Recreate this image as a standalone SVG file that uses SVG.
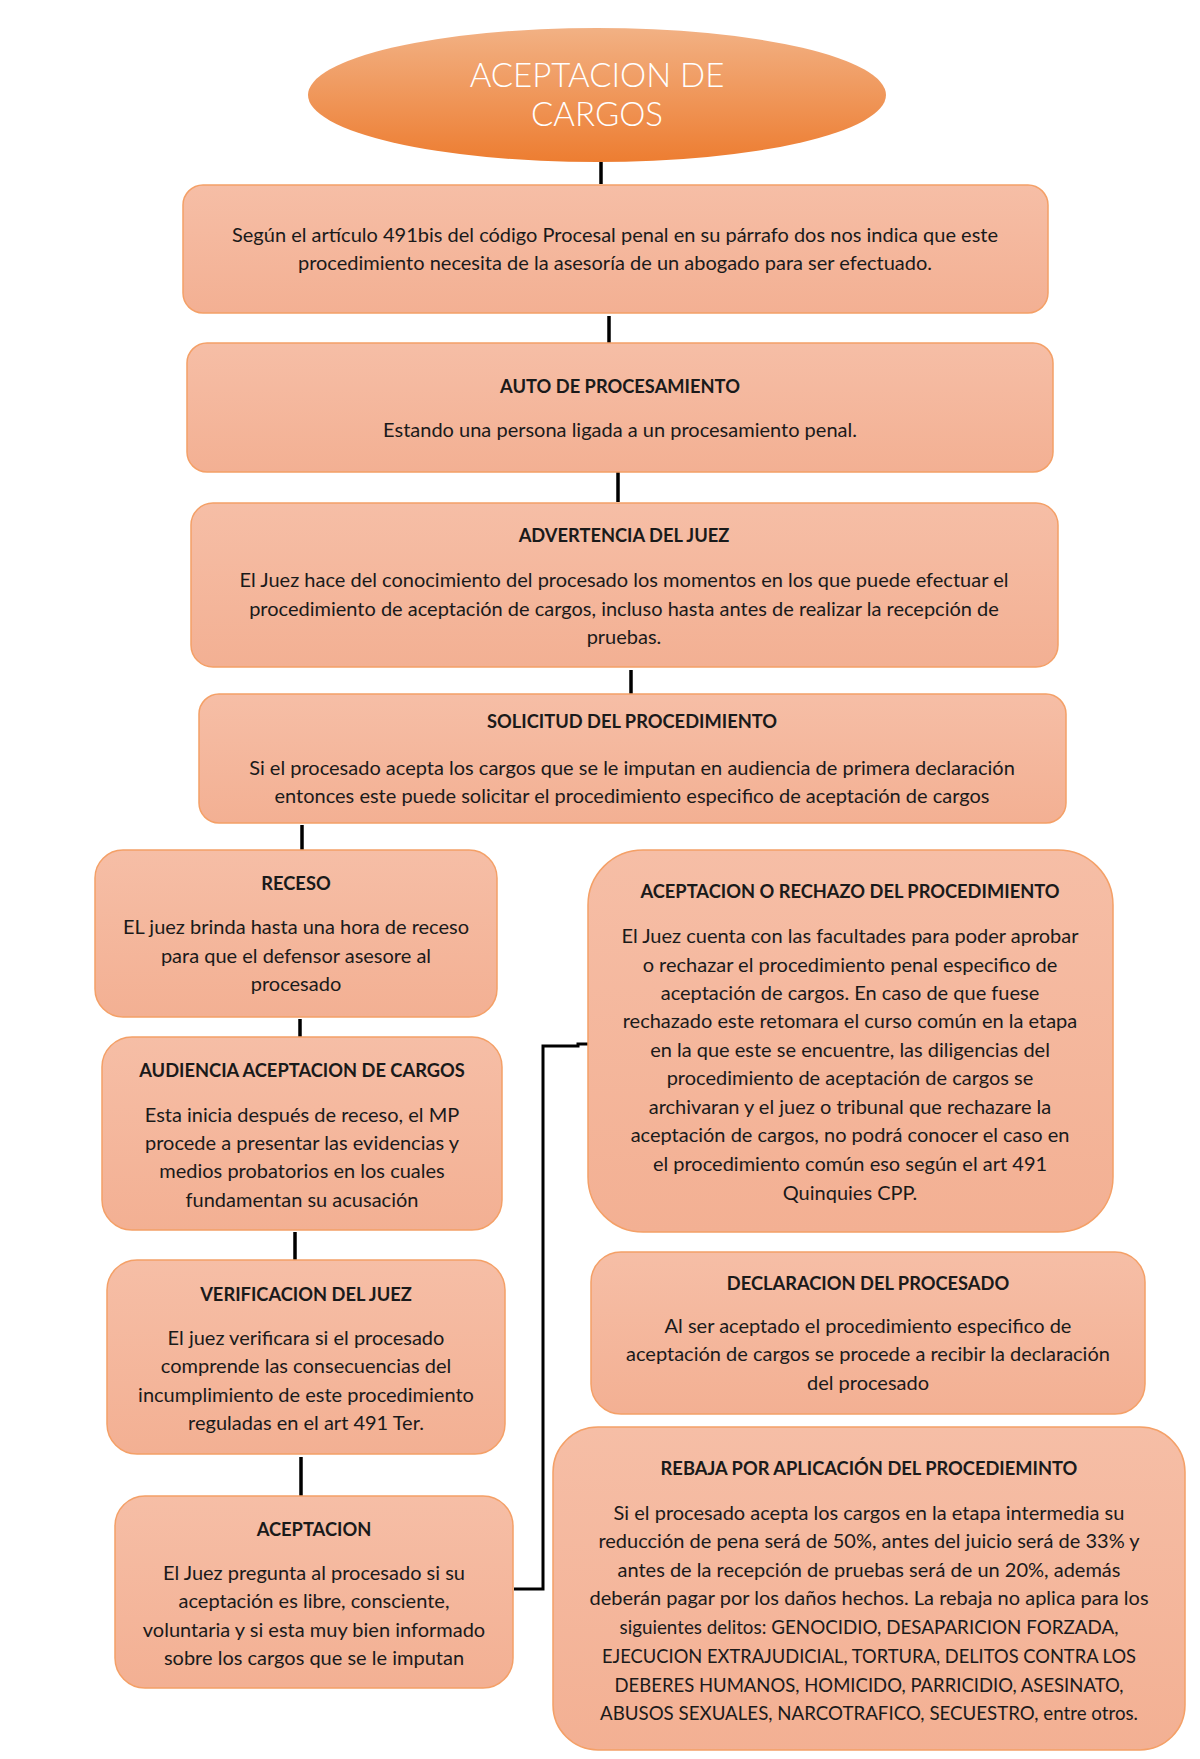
<svg xmlns="http://www.w3.org/2000/svg" width="1200" height="1759" viewBox="0 0 1200 1759">
<defs>
<linearGradient id="gBox" x1="0" y1="0" x2="0" y2="1">
<stop offset="0" stop-color="#F6BEA6"/>
<stop offset="1" stop-color="#F3B093"/>
</linearGradient>
<linearGradient id="gEll" x1="0" y1="0" x2="0" y2="1">
<stop offset="0" stop-color="#F2B184"/>
<stop offset="1" stop-color="#ED7D31"/>
</linearGradient>
<style>
.box{fill:url(#gBox);stroke:#F4A067;stroke-width:1.5}
.t{font-family:Lato,"Liberation Sans",sans-serif;font-size:20px;fill:#1a1a1a;text-anchor:middle}
.b{font-weight:bold;font-size:18.3px}
.c{stroke:#000;stroke-width:3.5;fill:none}
.ct{stroke:#000;stroke-width:3;fill:none}
</style>
</defs>
<rect width="1200" height="1759" fill="#fff"/>

<g id="connectors">
<line class="c" x1="601" y1="162" x2="601" y2="184"/>
<line class="c" x1="609" y1="316" x2="609" y2="343"/>
<line class="c" x1="618" y1="472" x2="618" y2="502"/>
<line class="c" x1="631" y1="670" x2="631" y2="694"/>
<line class="c" x1="302" y1="825" x2="302" y2="850"/>
<line class="c" x1="300" y1="1019" x2="300" y2="1037"/>
<line class="c" x1="295" y1="1232" x2="295" y2="1260"/>
<line class="c" x1="301" y1="1457" x2="301" y2="1496"/>
<path class="ct" d="M514 1589 H543 V1046 H578 V1044 H588"/>
</g>

<g id="n-title">
<ellipse cx="597" cy="95" rx="289" ry="67" fill="url(#gEll)"/>
<text x="597" y="87" font-family="Lato,'Liberation Sans',sans-serif" font-weight="300" font-size="33" fill="#fff" text-anchor="middle">ACEPTACION DE</text>
<text x="597" y="126" font-family="Lato,'Liberation Sans',sans-serif" font-weight="300" font-size="33" fill="#fff" text-anchor="middle">CARGOS</text>
</g>

<g id="n-articulo">
<rect class="box" x="183" y="185" width="865" height="128" rx="20"/>
<text class="t" x="615" y="242">Según el artículo 491bis del código Procesal penal en su párrafo dos nos indica que este</text>
<text class="t" x="615" y="270">procedimiento necesita de la asesoría de un abogado para ser efectuado.</text>
</g>

<g id="n-auto">
<rect class="box" x="187" y="343" width="866" height="129" rx="20"/>
<text class="t b" x="620" y="393">AUTO DE PROCESAMIENTO</text>
<text class="t" x="620" y="437">Estando una persona ligada a un procesamiento penal.</text>
</g>

<g id="n-advertencia">
<rect class="box" x="191" y="503" width="867" height="164" rx="22"/>
<text class="t b" x="624" y="542">ADVERTENCIA DEL JUEZ</text>
<text class="t" x="624" y="587">El Juez hace del conocimiento del procesado los momentos en los que puede efectuar el</text>
<text class="t" x="624" y="616">procedimiento de aceptación de cargos, incluso hasta antes de realizar la recepción de</text>
<text class="t" x="624" y="644">pruebas.</text>
</g>

<g id="n-solicitud">
<rect class="box" x="199" y="694" width="867" height="129" rx="20"/>
<text class="t b" x="632" y="728">SOLICITUD DEL PROCEDIMIENTO</text>
<text class="t" x="632" y="775">Si el procesado acepta los cargos que se le imputan en audiencia de primera declaración</text>
<text class="t" x="632" y="803">entonces este puede solicitar el procedimiento especifico de aceptación de cargos</text>
</g>

<g id="n-receso">
<rect class="box" x="95" y="850" width="402" height="167" rx="28"/>
<text class="t b" x="296" y="890">RECESO</text>
<text class="t" x="296" y="934">EL juez brinda hasta una hora de receso</text>
<text class="t" x="296" y="963">para que el defensor asesore al</text>
<text class="t" x="296" y="991">procesado</text>
</g>

<g id="n-audiencia">
<rect class="box" x="102" y="1037" width="400" height="193" rx="30"/>
<text class="t b" x="302" y="1077">AUDIENCIA ACEPTACION DE CARGOS</text>
<text class="t" x="302" y="1122">Esta inicia después de receso, el MP</text>
<text class="t" x="302" y="1150">procede a presentar las evidencias y</text>
<text class="t" x="302" y="1178">medios probatorios en los cuales</text>
<text class="t" x="302" y="1207">fundamentan su acusación</text>
</g>

<g id="n-verificacion">
<rect class="box" x="107" y="1260" width="398" height="194" rx="30"/>
<text class="t b" x="306" y="1301">VERIFICACION DEL JUEZ</text>
<text class="t" x="306" y="1345">El juez verificara si el procesado</text>
<text class="t" x="306" y="1373">comprende las consecuencias del</text>
<text class="t" x="306" y="1402">incumplimiento de este procedimiento</text>
<text class="t" x="306" y="1430">reguladas en el art 491 Ter.</text>
</g>

<g id="n-aceptacion">
<rect class="box" x="115" y="1496" width="398" height="192" rx="30"/>
<text class="t b" x="314" y="1536">ACEPTACION</text>
<text class="t" x="314" y="1580">El Juez pregunta al procesado si su</text>
<text class="t" x="314" y="1608">aceptación es libre, consciente,</text>
<text class="t" x="314" y="1637">voluntaria y si esta muy bien informado</text>
<text class="t" x="314" y="1665">sobre los cargos que se le imputan</text>
</g>

<g id="n-rechazo">
<rect class="box" x="588" y="850" width="525" height="382" rx="55"/>
<text class="t b" x="850" y="898">ACEPTACION O RECHAZO DEL PROCEDIMIENTO</text>
<text class="t" x="850" y="943">El Juez cuenta con las facultades para poder aprobar</text>
<text class="t" x="850" y="972">o rechazar el procedimiento penal especifico de</text>
<text class="t" x="850" y="1000">aceptación de cargos. En caso de que fuese</text>
<text class="t" x="850" y="1028">rechazado este retomara el curso común en la etapa</text>
<text class="t" x="850" y="1057">en la que este se encuentre, las diligencias del</text>
<text class="t" x="850" y="1085">procedimiento de aceptación de cargos se</text>
<text class="t" x="850" y="1114">archivaran y el juez o tribunal que rechazare la</text>
<text class="t" x="850" y="1142">aceptación de cargos, no podrá conocer el caso en</text>
<text class="t" x="850" y="1171">el procedimiento común eso según el art 491</text>
<text class="t" x="850" y="1200">Quinquies CPP.</text>
</g>

<g id="n-declaracion">
<rect class="box" x="591" y="1252" width="554" height="162" rx="30"/>
<text class="t b" x="868" y="1290">DECLARACION DEL PROCESADO</text>
<text class="t" x="868" y="1333">Al ser aceptado el procedimiento especifico de</text>
<text class="t" x="868" y="1361">aceptación de cargos se procede a recibir la declaración</text>
<text class="t" x="868" y="1390">del procesado</text>
</g>

<g id="n-rebaja">
<rect class="box" x="553" y="1427" width="632" height="323" rx="45"/>
<text class="t b" x="869" y="1475">REBAJA POR APLICACIÓN DEL PROCEDIEMINTO</text>
<text class="t" x="869" y="1520">Si el procesado acepta los cargos en la etapa intermedia su</text>
<text class="t" x="869" y="1548">reducción de pena será de 50%, antes del juicio será de 33% y</text>
<text class="t" x="869" y="1577">antes de la recepción de pruebas será de un 20%, además</text>
<text class="t" x="869" y="1605">deberán pagar por los daños hechos. La rebaja no aplica para los</text>
<text class="t" x="869" y="1634" textLength="499" lengthAdjust="spacingAndGlyphs">siguientes delitos: GENOCIDIO, DESAPARICION FORZADA,</text>
<text class="t" x="869" y="1663" textLength="534" lengthAdjust="spacingAndGlyphs">EJECUCION EXTRAJUDICIAL, TORTURA, DELITOS CONTRA LOS</text>
<text class="t" x="869" y="1692" textLength="509" lengthAdjust="spacingAndGlyphs">DEBERES HUMANOS, HOMICIDO, PARRICIDIO, ASESINATO,</text>
<text class="t" x="869" y="1720" textLength="538" lengthAdjust="spacingAndGlyphs">ABUSOS SEXUALES, NARCOTRAFICO, SECUESTRO, entre otros.</text>
</g>
</svg>
